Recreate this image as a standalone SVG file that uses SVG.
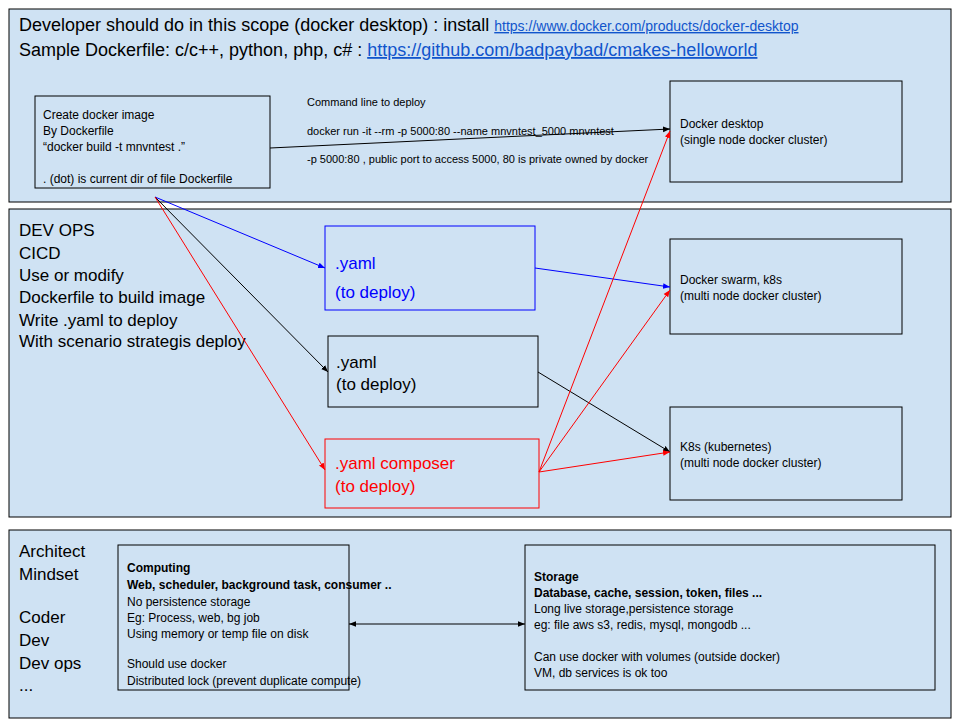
<svg xmlns="http://www.w3.org/2000/svg" width="960" height="720" viewBox="0 0 960 720">
<defs>
<style>
.sec{fill:#cfe2f3;stroke:#000;stroke-width:1}
.box{fill:#cfe2f3;stroke:#000;stroke-width:1}
text{font-family:"Liberation Sans",Arial,sans-serif;fill:#000}
.s{font-size:12px}
.c{font-size:11px}
.l{font-size:17px}
.h{font-size:18px}
.b{font-weight:bold}
.link{fill:#1155cc;text-decoration:underline}
</style>
<marker id="ak" viewBox="0 0 10 10" refX="10" refY="5" markerWidth="7" markerHeight="7" orient="auto-start-reverse"><path d="M0,1 L10,5 L0,9 z" fill="#000"/></marker>
<marker id="ab" viewBox="0 0 10 10" refX="10" refY="5" markerWidth="7" markerHeight="7" orient="auto"><path d="M0,1 L10,5 L0,9 z" fill="#0000ff"/></marker>
<marker id="ar" viewBox="0 0 10 10" refX="10" refY="5" markerWidth="7" markerHeight="7" orient="auto"><path d="M0,1 L10,5 L0,9 z" fill="#ff0000"/></marker>
</defs>
<rect width="960" height="720" fill="#fff"/>
<g id="section1">
<rect class="sec" x="9" y="9" width="942" height="193"/>
<text x="19" y="31" class="h">Developer should do in this scope (docker desktop) : install <tspan class="link" font-size="14">https://www.docker.com/products/docker-desktop</tspan></text>
<text x="19" y="56" class="h">Sample Dockerfile: c/c++, python, php, c# : <tspan class="link">https://github.com/badpaybad/cmakes-helloworld</tspan></text>
<text x="307" y="106" class="c">Command line to deploy</text>
<text x="307" y="135" class="c">docker run -it --rm -p 5000:80 --name mnvntest_5000 mnvntest</text>
<text x="307" y="163" class="c">-p 5000:80 , public port to access 5000, 80 is private owned by docker</text>
</g>
<g id="section2">
<rect class="sec" x="9" y="209" width="942" height="308"/>
<text class="l" x="19" y="236">DEV OPS</text>
<text class="l" x="19" y="259">CICD</text>
<text class="l" x="19" y="281">Use or modify</text>
<text class="l" x="19" y="303">Dockerfile to build image</text>
<text class="l" x="19" y="326">Write .yaml to deploy</text>
<text class="l" x="19" y="347">With scenario strategis deploy</text>
</g>
<g id="section3">
<rect class="sec" x="9" y="530" width="942" height="188"/>
<text class="l" x="19" y="557">Architect</text>
<text class="l" x="19" y="580">Mindset</text>
<text class="l" x="19" y="623">Coder</text>
<text class="l" x="19" y="646">Dev</text>
<text class="l" x="19" y="669">Dev ops</text>
<text class="l" x="19" y="691">...</text>
</g>
<g id="build">
<rect class="box" x="35" y="96" width="235" height="92"/>
<text class="s" x="43" y="119">Create docker image</text>
<text class="s" x="43" y="135">By Dockerfile</text>
<text class="s" x="43" y="151">“docker build -t mnvntest .”</text>
<text class="s" x="43" y="183">. (dot) is current dir of file Dockerfile</text>
</g>
<g id="desktop">
<rect class="box" x="670" y="81" width="232" height="101"/>
<text class="s" x="680" y="128">Docker desktop</text>
<text class="s" x="680" y="144">(single node docker cluster)</text>
</g>
<g id="yamlblue">
<rect class="box" x="325" y="226" width="210" height="84" stroke="#0000ff" style="stroke:#0000ff"/>
<text class="l" x="335" y="269" style="fill:#0000ff">.yaml</text>
<text class="l" x="335" y="298" style="fill:#0000ff">(to deploy)</text>
</g>
<g id="yamlblack">
<rect class="box" x="328" y="336" width="210" height="71"/>
<text class="l" x="336" y="368">.yaml</text>
<text class="l" x="336" y="390">(to deploy)</text>
</g>
<g id="yamlred">
<rect class="box" x="325" y="439" width="214" height="69" style="stroke:#ff0000"/>
<text class="l" x="335" y="469" style="fill:#ff0000">.yaml composer</text>
<text class="l" x="335" y="492" style="fill:#ff0000">(to deploy)</text>
</g>
<g id="swarm">
<rect class="box" x="670" y="239" width="232" height="95"/>
<text class="s" x="680" y="284">Docker swarm, k8s</text>
<text class="s" x="680" y="300">(multi node docker cluster)</text>
</g>
<g id="k8s">
<rect class="box" x="670" y="407" width="232" height="93"/>
<text class="s" x="680" y="451">K8s (kubernetes)</text>
<text class="s" x="680" y="467">(multi node docker cluster)</text>
</g>
<g id="computing">
<rect class="box" x="118" y="545" width="231" height="145"/>
<text class="s b" x="127" y="572">Computing</text>
<text class="s b" x="127" y="589">Web, scheduler, background task, consumer ..</text>
<text class="s" x="127" y="606">No persistence storage</text>
<text class="s" x="127" y="622">Eg: Process, web, bg job</text>
<text class="s" x="127" y="638">Using memory or temp file on disk</text>
<text class="s" x="127" y="668">Should use docker</text>
<text class="s" x="127" y="685">Distributed lock (prevent duplicate compute)</text>
</g>
<g id="storage">
<rect class="box" x="525" y="545" width="410" height="145"/>
<text class="s b" x="534" y="581">Storage</text>
<text class="s b" x="534" y="597">Database, cache, session, token, files ...</text>
<text class="s" x="534" y="613">Long live storage,persistence storage</text>
<text class="s" x="534" y="629">eg: file aws s3, redis, mysql, mongodb ...</text>
<text class="s" x="534" y="661">Can use docker with volumes (outside docker)</text>
<text class="s" x="534" y="677">VM, db services is ok too</text>
</g>
<g id="connectors" fill="none">
<line x1="270" y1="148" x2="670" y2="129" stroke="#000" marker-end="url(#ak)"/>
<line x1="155" y1="197" x2="325" y2="268" stroke="#0000ff" marker-end="url(#ab)"/>
<line x1="535" y1="268" x2="670" y2="287" stroke="#0000ff" marker-end="url(#ab)"/>
<line x1="155" y1="197" x2="328" y2="372" stroke="#000" marker-end="url(#ak)"/>
<line x1="538" y1="372" x2="670" y2="452" stroke="#000" marker-end="url(#ak)"/>
<line x1="155" y1="197" x2="325" y2="470" stroke="#ff0000" marker-end="url(#ar)"/>
<line x1="539" y1="472" x2="670" y2="131" stroke="#ff0000" marker-end="url(#ar)"/>
<line x1="539" y1="472" x2="670" y2="290" stroke="#ff0000" marker-end="url(#ar)"/>
<line x1="539" y1="472" x2="670" y2="452" stroke="#ff0000" marker-end="url(#ar)"/>
<line x1="349" y1="624" x2="525" y2="624" stroke="#000" marker-start="url(#ak)" marker-end="url(#ak)"/>
</g>
</svg>
